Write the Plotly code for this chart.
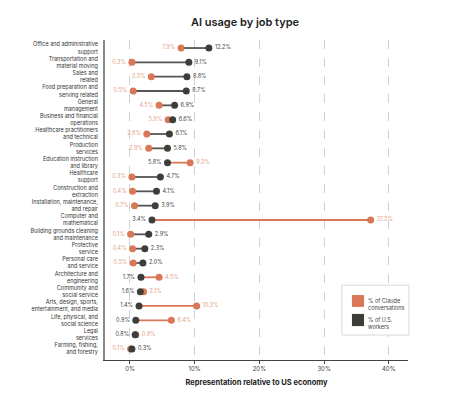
import plotly.graph_objects as go

categories = [
    "Office and administrative<br>support",
    "Transportation and<br>material moving",
    "Sales and<br>related",
    "Food preparation and<br>serving related",
    "General<br>management",
    "Business and financial<br>operations",
    "Healthcare practitioners<br>and technical",
    "Production<br>services",
    "Education instruction<br>and library",
    "Healthcare<br>support",
    "Construction and<br>extraction",
    "Installation, maintenance,<br>and repair",
    "Computer and<br>mathematical",
    "Building grounds cleaning<br>and maintenance",
    "Protective<br>service",
    "Personal care<br>and service",
    "Architecture and<br>engineering",
    "Community and<br>social service",
    "Arts, design, sports,<br>entertainment, and media",
    "Life, physical, and<br>social science",
    "Legal<br>services",
    "Farming, fishing,<br>and forestry",
]
claude_pct = [7.9, 0.3, 3.3, 0.5, 4.5, 5.9, 2.6, 2.9, 9.3, 0.3, 0.4, 0.7, 37.2,
              0.1, 0.4, 0.5, 4.5, 2.1, 10.3, 6.4, 0.9, 0.1]
workers_pct = [12.2, 9.1, 8.8, 8.7, 6.9, 6.6, 6.1, 5.8, 5.8, 4.7, 4.1, 3.9, 3.4,
               2.9, 2.3, 2.0, 1.7, 1.6, 1.4, 0.9, 0.8, 0.3]
x_ticks = [0, 10, 20, 30, 40]
legend_labels = ["% of Claude<br>conversations", "% of U.S.<br>workers"]

ORANGE = "#D97757"
ORANGE_TXT = "#E3A184"
DARK = "#3D3D3A"
DARK_TXT = "#444441"
FONT = "Inter"

rows = list(range(len(categories)))

fig = go.Figure()

# connecting lines
ox, oy, dx, dy = [], [], [], []
for i, (c, w) in enumerate(zip(claude_pct, workers_pct)):
    if c > w:
        ox += [w, c, None]; oy += [i, i, None]
    else:
        dx += [c, w, None]; dy += [i, i, None]
fig.add_trace(go.Scatter(x=ox, y=oy, mode="lines", line=dict(color=ORANGE, width=1.8),
                         showlegend=False, hoverinfo="skip"))
fig.add_trace(go.Scatter(x=dx, y=dy, mode="lines", line=dict(color="#555552", width=1.8),
                         showlegend=False, hoverinfo="skip"))

# dots
fig.add_trace(go.Scatter(x=claude_pct, y=rows, mode="markers",
                         marker=dict(color=ORANGE, size=7, line=dict(width=0)),
                         showlegend=False))
fig.add_trace(go.Scatter(x=workers_pct, y=rows, mode="markers",
                         marker=dict(color=DARK, size=7, line=dict(width=0)),
                         showlegend=False))

# value labels (transparent markers give the text its offset from the dot)
lx, rx, lt, rt, lc, rc = [], [], [], [], [], []
for c, w in zip(claude_pct, workers_pct):
    if c < w:
        lx.append(c); lt.append(f"{c:.1f}%"); lc.append(ORANGE_TXT)
        rx.append(w); rt.append(f"{w:.1f}%"); rc.append(DARK_TXT)
    else:
        lx.append(w); lt.append(f"{w:.1f}%"); lc.append(DARK_TXT)
        rx.append(c); rt.append(f"{c:.1f}%"); rc.append(ORANGE_TXT)
fig.add_trace(go.Scatter(x=lx, y=rows, mode="markers+text", text=lt, textposition="middle left",
                         marker=dict(size=8, color="rgba(0,0,0,0)"),
                         textfont=dict(color=lc, size=5.5, family=FONT),
                         showlegend=False, hoverinfo="skip"))
fig.add_trace(go.Scatter(x=rx, y=rows, mode="markers+text", text=rt, textposition="middle right",
                         marker=dict(size=8, color="rgba(0,0,0,0)"),
                         textfont=dict(color=rc, size=5.5, family=FONT),
                         showlegend=False, hoverinfo="skip"))

# legend box drawn in paper coordinates
shapes = [dict(type="rect", xref="paper", yref="paper", x0=0.782, x1=1.003, y0=0.078, y1=0.234,
               fillcolor="white", line=dict(color="#D8D8D8", width=1), layer="above")]
annotations = []
for (sy0, sy1, ty), col, lab in zip([(0.166, 0.203, 0.175), (0.106, 0.144, 0.115)],
                                    [ORANGE, DARK], legend_labels):
    shapes.append(dict(type="rect", xref="paper", yref="paper", x0=0.815, x1=0.855,
                       y0=sy0, y1=sy1, fillcolor=col, line=dict(width=0), layer="above"))
    annotations.append(dict(xref="paper", yref="paper", x=0.861, y=ty, xanchor="left",
                            yanchor="middle", align="left", text=lab, showarrow=False,
                            font=dict(size=5.5, family=FONT, color="#444444")))

fig.update_layout(
    width=474, height=396,
    margin=dict(l=97, r=74, t=32, b=44),
    paper_bgcolor="white", plot_bgcolor="white",
    font=dict(family=FONT, color="#333333"),
    title=dict(text="AI usage by job type", x=0.5, xanchor="center", y=0.965, yanchor="middle",
               font=dict(size=11, family=FONT, color="#222222", weight=600)),
    showlegend=False,
    shapes=shapes,
    annotations=annotations,
)
fig.update_xaxes(
    range=[-3.86, 42.97], tickvals=x_ticks, ticktext=[f"{v}%" for v in x_ticks],
    showgrid=True, gridcolor="#D0D0D0", griddash="dash", gridwidth=1,
    zeroline=False, showline=True, linecolor="#444444", linewidth=1,
    ticks="outside", ticklen=3, tickcolor="#444444",
    tickfont=dict(size=6, family=FONT, color="#444444"),
    title=dict(text="<b>Representation relative to US economy</b>", standoff=8,
               font=dict(size=7.5, family=FONT, color="#222222")),
)
fig.update_yaxes(
    range=[21.77, -0.56], tickvals=rows, ticktext=categories,
    showgrid=False, zeroline=False, showline=True, linecolor="#888888", linewidth=2,
    ticks="", ticklabelstandoff=4,
    tickfont=dict(size=5.5, family=FONT, color="#333333"),
)

fig.write_html("out.html")
